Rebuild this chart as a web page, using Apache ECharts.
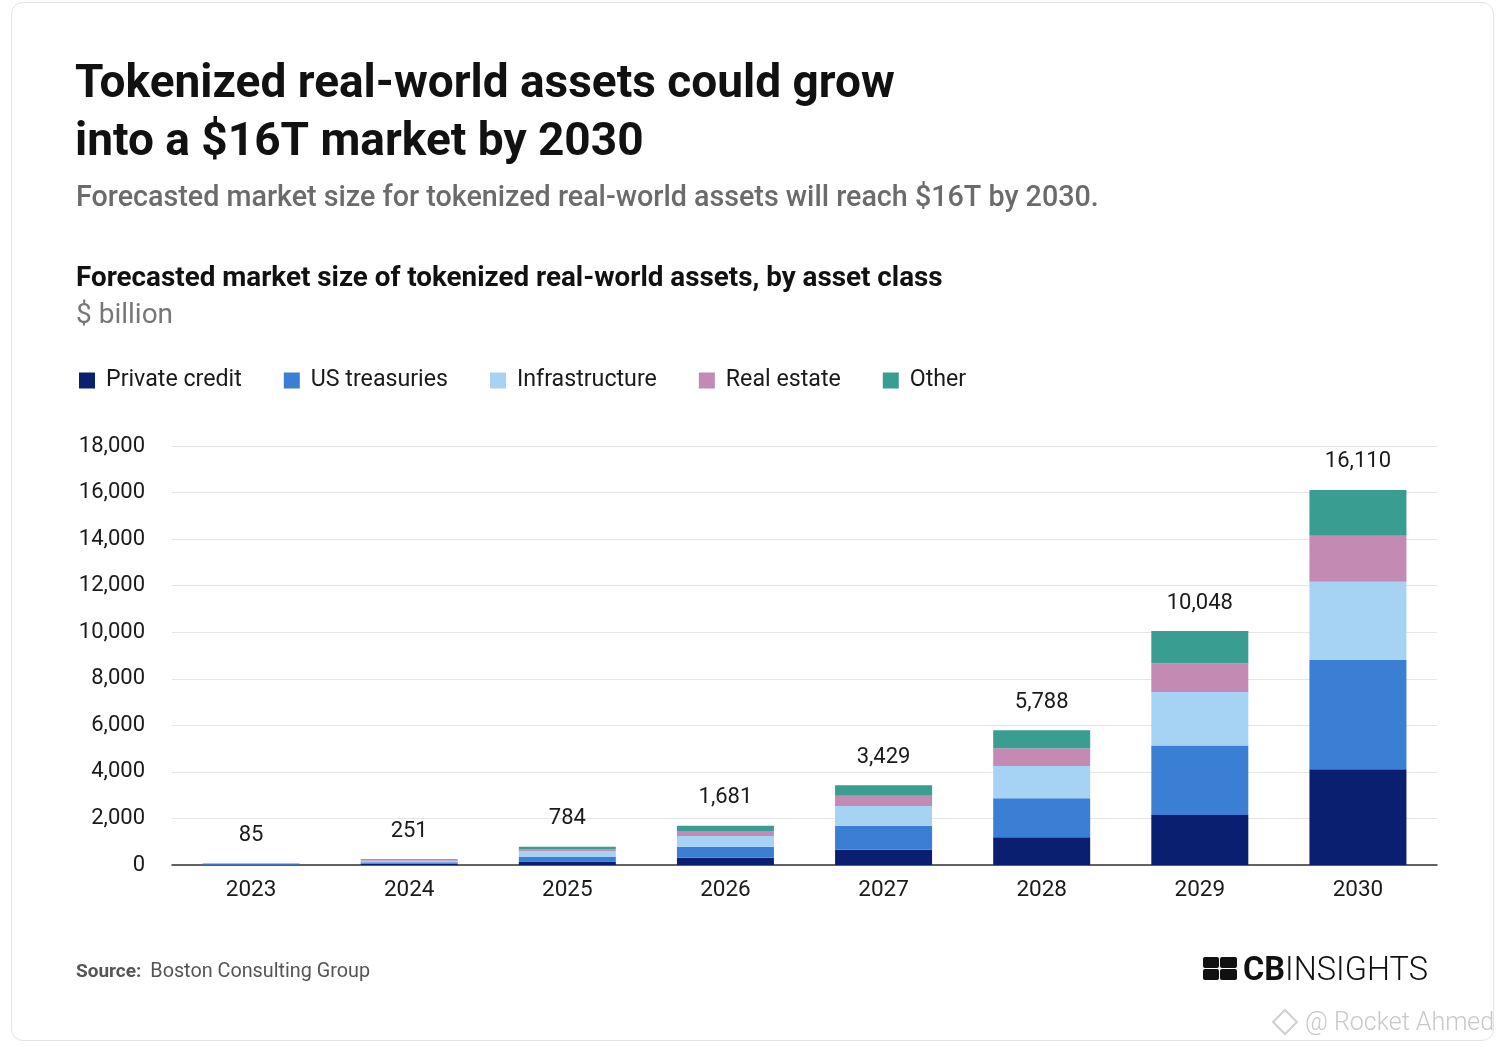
<!DOCTYPE html>
<html lang="en">
<head>
  <meta charset="UTF-8" />
  <title>Tokenized real-world assets</title>
  <script src="https://cdn.jsdelivr.net/npm/echarts@6/dist/echarts.min.js"></script>
  <style>
    html, body { margin: 0; padding: 0; background: #ffffff; }
    .card {
      position: absolute; left: 11px; top: 2px; width: 1481px; height: 1037px;
      border: 1px solid #e4e4e4; border-radius: 12px; background: #ffffff;
    }
    #chart { position: absolute; left: 0; top: 0; width: 1503px; height: 1047px; }
  </style>
</head>
<body>
  <div class="card"></div>
  <div id="chart"></div>
  <script>
    // years and stacked values ($ billion)
    const years = ['2023', '2024', '2025', '2026', '2027', '2028', '2029', '2030'];
    const privateCredit = [15, 50, 147, 313, 660, 1190, 2150, 4110];
    const usTreasuries = [25, 65, 195, 474, 1030, 1675, 2980, 4700];
    const infrastructure = [25, 70, 246, 462, 845, 1390, 2300, 3360];
    const realEstate = [10, 30, 86, 216, 445, 760, 1240, 1975];
    const other = [10, 36, 110, 216, 449, 773, 1378, 1965];
    const totals = [85, 251, 784, 1681, 3429, 5788, 10048, 16110];
    const yTicks = [0, 2000, 4000, 6000, 8000, 10000, 12000, 14000, 16000, 18000];

    const font = 'Roboto, "Noto Sans", sans-serif';
    const colors = ['#0b1f70', '#3a7fd4', '#a6d3f3', '#c38ab3', '#3a9d92'];

    const chart = echarts.init(document.getElementById('chart'));

    function fmt(v) { return Number(v).toLocaleString('en-US'); }

    function stackSeries(name, data, isTop) {
      const s = {
        name: name,
        type: 'bar',
        stack: 'total',
        data: data,
        barWidth: 97,
        emphasis: { disabled: true }
      };
      if (isTop) {
        s.label = {
          show: true,
          position: 'top',
          distance: 17,
          fontFamily: font,
          fontSize: 22,
          color: '#1a1a1a',
          formatter: p => fmt(totals[p.dataIndex])
        };
      }
      return s;
    }

    const option = {
      animation: false,
      color: colors,
      textStyle: { fontFamily: font },
      title: [
        {
          text: 'Tokenized real-world assets could grow\ninto a $16T market by 2030',
          left: 75, top: 56, padding: 0,
          textStyle: { fontFamily: font, fontSize: 46, fontWeight: 'bold', color: '#111', lineHeight: 58 }
        },
        {
          text: 'Forecasted market size for tokenized real-world assets will reach $16T by 2030.',
          left: 76, top: 183, padding: 0,
          textStyle: { fontFamily: font, fontSize: 28.7, fontWeight: 500, color: '#6b6b6b', lineHeight: 32 }
        },
        {
          text: 'Forecasted market size of tokenized real-world assets, by asset class',
          left: 76, top: 264, padding: 0,
          textStyle: { fontFamily: font, fontSize: 27.8, fontWeight: 'bold', color: '#111', lineHeight: 30 }
        },
        {
          text: '$ billion',
          left: 76, top: 301, padding: 0,
          textStyle: { fontFamily: font, fontSize: 28, fontWeight: 'normal', color: '#777', lineHeight: 30 }
        },
        {
          text: '{b|Source:}  {n|Boston Consulting Group}',
          left: 76, top: 962, padding: 0,
          textStyle: {
            rich: {
              b: { fontFamily: font, fontSize: 19, fontWeight: 'bold', color: '#555' },
              n: { fontFamily: font, fontSize: 19.8, fontWeight: 'normal', color: '#555' }
            }
          }
        },
        {
          text: '{c|CB}{i|INSIGHTS}',
          left: 1243, top: 955, padding: 0,
          textStyle: {
            rich: {
              c: { fontFamily: font, fontSize: 32.5, fontWeight: 'bold', color: '#111' },
              i: { fontFamily: font, fontSize: 32.5, fontWeight: 300, color: '#111' }
            }
          }
        },
        {
          text: '@ Rocket Ahmed',
          left: 1305, top: 1011, padding: 0,
          textStyle: { fontFamily: font, fontSize: 25, fontWeight: 300, color: '#c8c8c8' }
        }
      ],
      graphic: [
        // CB Insights mark
        { type: 'rect', left: 1203, top: 957, shape: { width: 16, height: 11, r: 2 }, style: { fill: '#111' } },
        { type: 'rect', left: 1220, top: 957, shape: { width: 17, height: 11, r: 2 }, style: { fill: '#111' } },
        { type: 'rect', left: 1203, top: 969, shape: { width: 16, height: 11, r: 2 }, style: { fill: '#111' } },
        { type: 'rect', left: 1220, top: 969, shape: { width: 17, height: 11, r: 2 }, style: { fill: '#111' } },
        // watermark diamond
        { type: 'polygon', shape: { points: [[1285, 1010], [1297, 1022], [1285, 1034], [1273, 1022]] },
          style: { fill: 'none', stroke: '#d0d0d0', lineWidth: 2 } }
      ],
      legend: {
        left: 74, top: 364,
        itemWidth: 16, itemHeight: 16, itemGap: 42,
        icon: 'rect',
        textStyle: { fontFamily: font, fontSize: 23.2, color: '#1a1a1a', padding: [0, 0, 0, 6] },
        data: ['Private credit', 'US treasuries', 'Infrastructure', 'Real estate', 'Other']
      },
      grid: { left: 172, right: 66, top: 446, bottom: 182, containLabel: false },
      xAxis: {
        type: 'category',
        data: years,
        axisTick: { show: false },
        axisLine: { lineStyle: { color: '#333', width: 1.5 } },
        axisLabel: { fontFamily: font, fontSize: 22.5, color: '#1a1a1a', margin: 14 }
      },
      yAxis: {
        type: 'value',
        min: yTicks[0],
        max: yTicks[yTicks.length - 1],
        interval: yTicks[1] - yTicks[0],
        axisLine: { show: false },
        axisTick: { show: false },
        splitLine: { lineStyle: { color: '#e6e6e6', width: 1 } },
        axisLabel: { fontFamily: font, fontSize: 22, color: '#1a1a1a', margin: 27, formatter: fmt }
      },
      series: [
        stackSeries('Private credit', privateCredit),
        stackSeries('US treasuries', usTreasuries),
        stackSeries('Infrastructure', infrastructure),
        stackSeries('Real estate', realEstate),
        stackSeries('Other', other, true)
      ]
    };

    chart.setOption(option);
  </script>
</body>
</html>
